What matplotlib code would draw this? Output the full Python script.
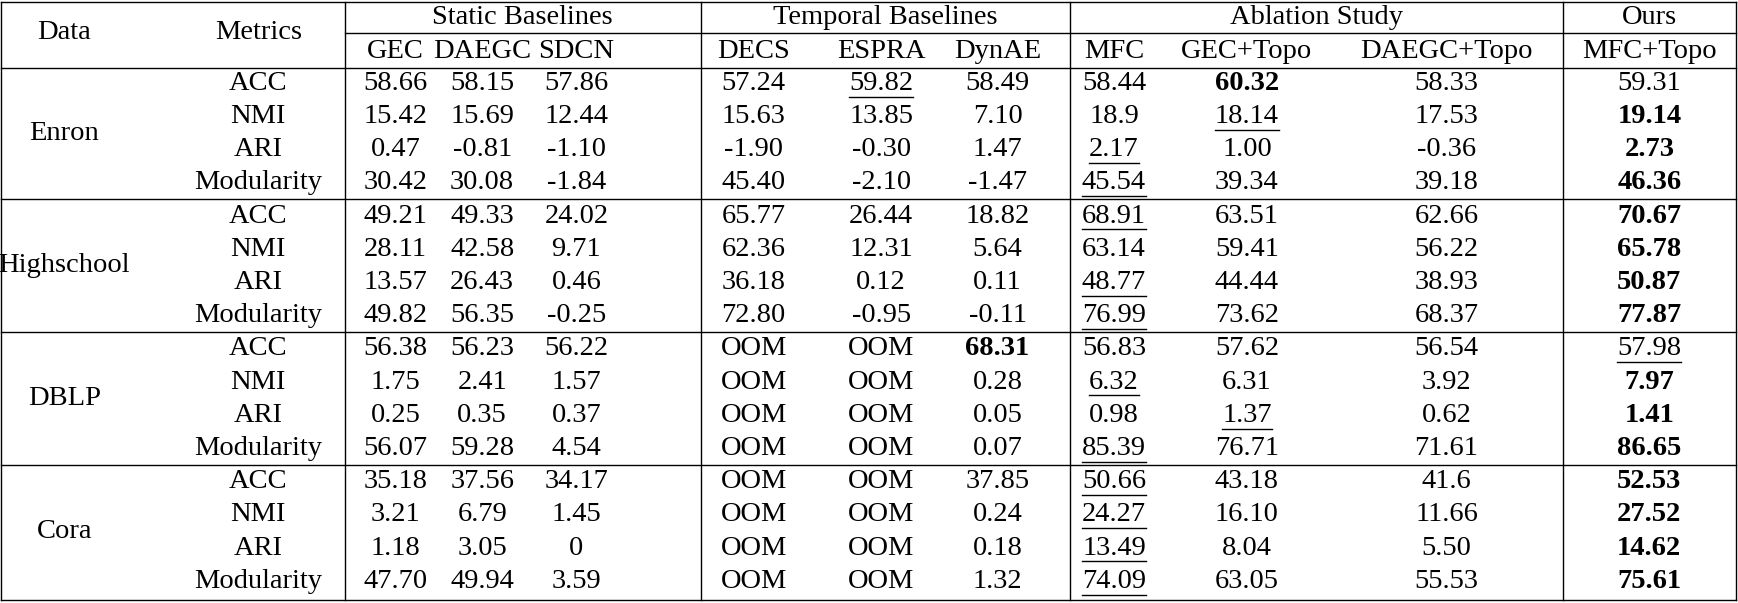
import matplotlib
matplotlib.use("Agg")
import matplotlib.pyplot as plt

datasets = ["Enron", "Highschool", "DBLP", "Cora"]
metrics = ["ACC", "NMI", "ARI", "Modularity"]
groups = ["Static Baselines", "Temporal Baselines", "Ablation Study", "Ours"]
methods = ["GEC", "DAEGC", "SDCN", "DECS", "ESPRA", "DynAE", "MFC", "GEC+Topo", "DAEGC+Topo", "MFC+Topo"]
# suffix 'b' = bold, 'u' = underline
GEC = ["58.66","15.42","0.47","30.42","49.21","28.11","13.57","49.82","56.38","1.75","0.25","56.07","35.18","3.21","1.18","47.70"]
DAEGC = ["58.15","15.69","-0.81","30.08","49.33","42.58","26.43","56.35","56.23","2.41","0.35","59.28","37.56","6.79","3.05","49.94"]
SDCN = ["57.86","12.44","-1.10","-1.84","24.02","9.71","0.46","-0.25","56.22","1.57","0.37","4.54","34.17","1.45","0","3.59"]
DECS = ["57.24","15.63","-1.90","45.40","65.77","62.36","36.18","72.80"] + ["OOM"] * 8
ESPRA = ["59.82u","13.85","-0.30","-2.10","26.44","12.31","0.12","-0.95"] + ["OOM"] * 8
DynAE = ["58.49","7.10","1.47","-1.47","18.82","5.64","0.11","-0.11","68.31b","0.28","0.05","0.07","37.85","0.24","0.18","1.32"]
MFC = ["58.44","18.9","2.17u","45.54u","68.91u","63.14","48.77u","76.99u","56.83","6.32u","0.98","85.39u","50.66u","24.27u","13.49u","74.09u"]
GEC_Topo = ["60.32b","18.14u","1.00","39.34","63.51","59.41","44.44","73.62","57.62","6.31","1.37u","76.71","43.18","16.10","8.04","63.05"]
DAEGC_Topo = ["58.33","17.53","-0.36","39.18","62.66","56.22","38.93","68.37","56.54","3.92","0.62","71.61","41.6","11.66","5.50","55.53"]
MFC_Topo = ["59.31","19.14b","2.73b","46.36b","70.67b","65.78b","50.87b","77.87b","57.98u","7.97b","1.41b","86.65b","52.53b","27.52b","14.62b","75.61b"]
columns = [GEC, DAEGC, SDCN, DECS, ESPRA, DynAE, MFC, GEC_Topo, DAEGC_Topo, MFC_Topo]

W, H = 1568, 543
fig = plt.figure(figsize=(17.38, 6.03), dpi=100)
ax = fig.add_axes([0, 0, 1, 1])
ax.set_xlim(0, W); ax.set_ylim(H, 0); ax.axis("off")
FONT = "Liberation Serif"; FS = 20.5

col_x = [357, 435, 520, 680, 795, 900, 1005, 1125, 1305, 1488]
vlines = [311, 632, 965, 1410]
group_x = [(311, 632), (632, 965), (965, 1410), (1410, 1566)]
row_y = [75 + 29.9 * i for i in range(16)]

lw = 1.0
ax.plot([1, 1566], [2, 2], color="k", lw=lw)
ax.plot([1, 1566], [540, 540], color="k", lw=lw)
ax.plot([311, 1566], [30, 30], color="k", lw=lw)
ax.plot([1, 1566], [61, 61], color="k", lw=lw)
for yy in [179, 299, 419]:
    ax.plot([1, 1566], [yy, yy], color="k", lw=lw)
for xx in [1, 1566] + vlines:
    ax.plot([xx, xx], [2, 540], color="k", lw=lw)

ax.text(58, 29, "Data", ha="center", va="center", family=FONT, fontsize=FS)
ax.text(233, 29, "Metrics", ha="center", va="center", family=FONT, fontsize=FS)
for g, (a, b) in zip(groups, group_x):
    ax.text((a + b) / 2, 16, g, ha="center", va="center", family=FONT, fontsize=FS)
for m, x in zip(methods, col_x):
    ax.text(x, 46, m, ha="center", va="center", family=FONT, fontsize=FS)
for i, d in enumerate(datasets):
    ax.text(58, (row_y[4 * i] + row_y[4 * i + 3]) / 2, d, ha="center", va="center", family=FONT, fontsize=FS)
    for j, m in enumerate(metrics):
        ax.text(233, row_y[4 * i + j], m, ha="center", va="center", family=FONT, fontsize=FS)

under = []
for col, x in zip(columns, col_x):
    for r, s in enumerate(col):
        bold = s.endswith("b"); ul = s.endswith("u")
        txt = s[:-1] if (bold or ul) else s
        t = ax.text(x, row_y[r], txt, ha="center", va="center", family=FONT, fontsize=FS,
                    weight="bold" if bold else "normal")
        if ul:
            under.append((t, row_y[r]))

fig.canvas.draw()
r = fig.canvas.get_renderer()
inv = ax.transData.inverted()
for t, y in under:
    bb = t.get_window_extent(r)
    (x0, _), (x1, _) = inv.transform([(bb.x0, bb.y0), (bb.x1, bb.y1)])
    ax.plot([x0, x1], [y + 12, y + 12], color="k", lw=1.0)

fig.savefig("out.png", dpi=100)
